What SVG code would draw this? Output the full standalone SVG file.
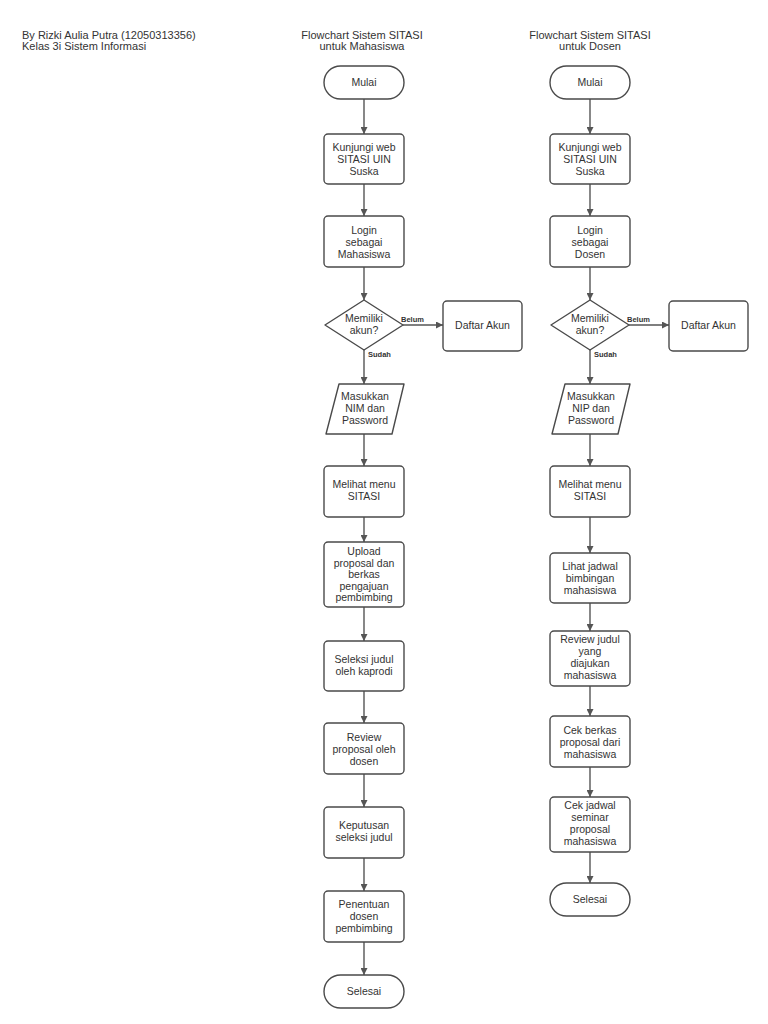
<svg xmlns="http://www.w3.org/2000/svg" width="768" height="1024" viewBox="0 0 768 1024">
<style>
.n{fill:#fff;stroke:#4a4a4a;stroke-width:1.4}
.t{font-family:"Liberation Sans",Arial,sans-serif;font-size:10.5px;fill:#333;text-anchor:middle}
.h{font-family:"Liberation Sans",Arial,sans-serif;font-size:11px;fill:#333}
.l{font-family:"Liberation Sans",Arial,sans-serif;font-size:7.5px;font-weight:bold;fill:#333}
.c{stroke:#555;stroke-width:1.4;fill:none;marker-end:url(#a)}
</style>
<defs>
<marker id="a" viewBox="0 0 10 10" refX="10" refY="5" markerWidth="7" markerHeight="7" orient="auto" markerUnits="userSpaceOnUse">
<path d="M0,0 L10,5 L0,10 z" fill="#555"/>
</marker>
</defs>
<rect width="768" height="1024" fill="#fff"/>
<g id="header">
<text class="h" x="22" y="39">By Rizki Aulia Putra (12050313356)</text>
<text class="h" x="22" y="50">Kelas 3i Sistem Informasi</text>
<text class="h" x="362" y="39" text-anchor="middle">Flowchart Sistem SITASI</text>
<text class="h" x="362" y="50" text-anchor="middle">untuk Mahasiswa</text>
<text class="h" x="590" y="39" text-anchor="middle">Flowchart Sistem SITASI</text>
<text class="h" x="590" y="50" text-anchor="middle">untuk Dosen</text>
</g>
<g id="connectors">
<line class="c" x1="364" y1="99" x2="364" y2="134"/>
<line class="c" x1="364" y1="184" x2="364" y2="216"/>
<line class="c" x1="364" y1="267" x2="364" y2="300"/>
<line class="c" x1="403" y1="325" x2="443" y2="325"/>
<line class="c" x1="364" y1="350" x2="364" y2="384"/>
<line class="c" x1="364" y1="434" x2="364" y2="466"/>
<line class="c" x1="364" y1="517" x2="364" y2="542"/>
<line class="c" x1="364" y1="607" x2="364" y2="641"/>
<line class="c" x1="364" y1="691" x2="364" y2="723"/>
<line class="c" x1="364" y1="774" x2="364" y2="807"/>
<line class="c" x1="364" y1="858" x2="364" y2="891"/>
<line class="c" x1="364" y1="942" x2="364" y2="975"/>
<text class="l" x="401" y="322">Belum</text>
<text class="l" x="368" y="357">Sudah</text>
<line class="c" x1="590" y1="99" x2="590" y2="134"/>
<line class="c" x1="590" y1="184" x2="590" y2="216"/>
<line class="c" x1="590" y1="267" x2="590" y2="300"/>
<line class="c" x1="629" y1="325" x2="669" y2="325"/>
<line class="c" x1="590" y1="350" x2="590" y2="384"/>
<line class="c" x1="590" y1="434" x2="590" y2="466"/>
<line class="c" x1="590" y1="517" x2="590" y2="553"/>
<line class="c" x1="590" y1="603" x2="590" y2="631"/>
<line class="c" x1="590" y1="686" x2="590" y2="716"/>
<line class="c" x1="590" y1="767" x2="590" y2="797"/>
<line class="c" x1="590" y1="852" x2="590" y2="883"/>
<text class="l" x="627" y="322">Belum</text>
<text class="l" x="594" y="357">Sudah</text>
</g>
<g id="m-mulai"><rect class="n" x="324" y="66" width="80" height="33" rx="16.5"/><text class="t" x="364" y="86">Mulai</text></g>
<g id="m-kunjungi"><rect class="n" x="324" y="134" width="80" height="50" rx="4"/><text class="t" x="364" y="151">Kunjungi web</text><text class="t" x="364" y="163">SITASI UIN</text><text class="t" x="364" y="175">Suska</text></g>
<g id="m-login"><rect class="n" x="324" y="216" width="80" height="51" rx="4"/><text class="t" x="364" y="234">Login</text><text class="t" x="364" y="246">sebagai</text><text class="t" x="364" y="258">Mahasiswa</text></g>
<g id="m-akun"><path class="n" d="M364,300 L403,325 L364,350 L325,325 Z" stroke-linejoin="round"/><text class="t" x="364" y="322">Memiliki</text><text class="t" x="364" y="334">akun?</text></g>
<g id="m-daftar"><rect class="n" x="443" y="301" width="79" height="50" rx="4"/><text class="t" x="482.5" y="329">Daftar Akun</text></g>
<g id="m-masukkan"><path class="n" d="M339,384 L404,384 L392,434 L326,434 Z" stroke-linejoin="round"/><text class="t" x="365" y="400">Masukkan</text><text class="t" x="365" y="412">NIM dan</text><text class="t" x="365" y="424">Password</text></g>
<g id="m-melihat"><rect class="n" x="324" y="466" width="80" height="51" rx="4"/><text class="t" x="364" y="488">Melihat menu</text><text class="t" x="364" y="500">SITASI</text></g>
<g id="m-upload"><rect class="n" x="324" y="542" width="80" height="65" rx="4"/><text class="t" x="364" y="555">Upload</text><text class="t" x="364" y="566.5">proposal dan</text><text class="t" x="364" y="578">berkas</text><text class="t" x="364" y="589.5">pengajuan</text><text class="t" x="364" y="601">pembimbing</text></g>
<g id="m-seleksi"><rect class="n" x="324" y="641" width="80" height="50" rx="4"/><text class="t" x="364" y="663">Seleksi judul</text><text class="t" x="364" y="675">oleh kaprodi</text></g>
<g id="m-review"><rect class="n" x="324" y="723" width="80" height="51" rx="4"/><text class="t" x="364" y="741">Review</text><text class="t" x="364" y="753">proposal oleh</text><text class="t" x="364" y="765">dosen</text></g>
<g id="m-keputusan"><rect class="n" x="324" y="807" width="80" height="51" rx="4"/><text class="t" x="364" y="829">Keputusan</text><text class="t" x="364" y="841">seleksi judul</text></g>
<g id="m-penentuan"><rect class="n" x="324" y="891" width="80" height="51" rx="4"/><text class="t" x="364" y="908">Penentuan</text><text class="t" x="364" y="920">dosen</text><text class="t" x="364" y="932">pembimbing</text></g>
<g id="m-selesai"><rect class="n" x="324" y="975" width="80" height="33" rx="16.5"/><text class="t" x="364" y="995">Selesai</text></g>
<g id="d-mulai"><rect class="n" x="550" y="66" width="80" height="33" rx="16.5"/><text class="t" x="590" y="86">Mulai</text></g>
<g id="d-kunjungi"><rect class="n" x="550" y="134" width="80" height="50" rx="4"/><text class="t" x="590" y="151">Kunjungi web</text><text class="t" x="590" y="163">SITASI UIN</text><text class="t" x="590" y="175">Suska</text></g>
<g id="d-login"><rect class="n" x="550" y="216" width="80" height="51" rx="4"/><text class="t" x="590" y="234">Login</text><text class="t" x="590" y="246">sebagai</text><text class="t" x="590" y="258">Dosen</text></g>
<g id="d-akun"><path class="n" d="M590,300 L629,325 L590,350 L551,325 Z" stroke-linejoin="round"/><text class="t" x="590" y="322">Memiliki</text><text class="t" x="590" y="334">akun?</text></g>
<g id="d-daftar"><rect class="n" x="669" y="301" width="79" height="50" rx="4"/><text class="t" x="708.5" y="329">Daftar Akun</text></g>
<g id="d-masukkan"><path class="n" d="M565,384 L630,384 L618,434 L552,434 Z" stroke-linejoin="round"/><text class="t" x="591" y="400">Masukkan</text><text class="t" x="591" y="412">NIP dan</text><text class="t" x="591" y="424">Password</text></g>
<g id="d-melihat"><rect class="n" x="550" y="466" width="80" height="51" rx="4"/><text class="t" x="590" y="488">Melihat menu</text><text class="t" x="590" y="500">SITASI</text></g>
<g id="d-lihat"><rect class="n" x="550" y="553" width="80" height="50" rx="4"/><text class="t" x="590" y="570">Lihat jadwal</text><text class="t" x="590" y="582">bimbingan</text><text class="t" x="590" y="594">mahasiswa</text></g>
<g id="d-review"><rect class="n" x="550" y="631" width="80" height="55" rx="4"/><text class="t" x="590" y="643">Review judul</text><text class="t" x="590" y="655">yang</text><text class="t" x="590" y="667">diajukan</text><text class="t" x="590" y="679">mahasiswa</text></g>
<g id="d-cekberkas"><rect class="n" x="550" y="716" width="80" height="51" rx="4"/><text class="t" x="590" y="734">Cek berkas</text><text class="t" x="590" y="746">proposal dari</text><text class="t" x="590" y="758">mahasiswa</text></g>
<g id="d-cekjadwal"><rect class="n" x="550" y="797" width="80" height="55" rx="4"/><text class="t" x="590" y="809">Cek jadwal</text><text class="t" x="590" y="821">seminar</text><text class="t" x="590" y="833">proposal</text><text class="t" x="590" y="845">mahasiswa</text></g>
<g id="d-selesai"><rect class="n" x="550" y="883" width="80" height="33" rx="16.5"/><text class="t" x="590" y="903">Selesai</text></g>
</svg>
